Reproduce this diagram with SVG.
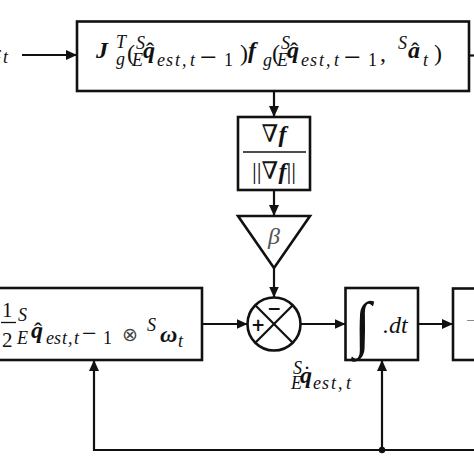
<svg xmlns="http://www.w3.org/2000/svg" width="474" height="474" viewBox="0 0 474 474">
<style>
.box{fill:#fff;stroke:#111;stroke-width:2.6}
.ln{fill:none;stroke:#111;stroke-width:2.2}
.it{font-family:"Liberation Serif","DejaVu Serif",serif;font-style:italic;fill:#111}
.bi{font-family:"Liberation Serif","DejaVu Serif",serif;font-style:italic;font-weight:bold;fill:#111}
.rm{font-family:"Liberation Serif","DejaVu Serif",serif;fill:#111}
.m{font-size:24px}
.s{font-size:18px}
</style>
<defs>
<marker id="ah" markerUnits="userSpaceOnUse" markerWidth="12" markerHeight="12" refX="11" refY="5" orient="auto">
<path d="M0,0 L11,5 L0,10 z" fill="#111"/>
</marker>
</defs>
<rect width="474" height="474" fill="#fff"/>

<g id="connectors">
<line class="ln" x1="22" y1="55" x2="77" y2="55" marker-end="url(#ah)"/>
<line class="ln" x1="469" y1="55.5" x2="476" y2="55.5"/>
<line class="ln" x1="274" y1="91" x2="274" y2="117" marker-end="url(#ah)"/>
<line class="ln" x1="274" y1="190" x2="274" y2="216" marker-end="url(#ah)"/>
<line class="ln" x1="274" y1="268" x2="274" y2="297.5" marker-end="url(#ah)"/>
<line class="ln" x1="202" y1="324" x2="247.5" y2="324" marker-end="url(#ah)"/>
<line class="ln" x1="300.5" y1="324" x2="345.5" y2="324" marker-end="url(#ah)"/>
<line class="ln" x1="418" y1="324" x2="453" y2="324" marker-end="url(#ah)"/>
<polyline class="ln" points="476,450 94,450 94,360" marker-end="url(#ah)"/>
<line class="ln" x1="382" y1="450" x2="382" y2="360" marker-end="url(#ah)"/>
<circle cx="382" cy="450" r="3.2" fill="#111"/>
</g>

<g id="input-label">
<text class="it s" x="-6" y="59">ε</text>
<text class="it s" x="3" y="63">t</text>
</g>

<g id="gradient-box">
<rect class="box" x="77" y="21.5" width="392" height="69.5"/>
<text class="bi m" x="96" y="58">J</text>
<text class="it s" x="116" y="48">T</text>
<text class="it s" x="116" y="65">g</text>
<text class="rm m" x="127" y="61">(</text>
<text class="it s" x="136" y="49">S</text>
<text class="it s" x="132" y="66">E</text>
<text class="bi m" x="143" y="58">q</text>
<text class="rm m" x="146" y="59">ˆ</text>
<text class="it s" x="157 166 175 182 190" y="66">est,t</text>
<text class="rm" font-size="30" x="200" y="66.5">−</text>
<text class="rm s" x="224" y="66">1</text>
<text class="rm m" x="240" y="61">)</text>
<text class="bi m" x="248" y="58">f</text>
<text class="it s" x="263" y="66">g</text>
<text class="rm m" x="272" y="61">(</text>
<text class="it s" x="281" y="49">S</text>
<text class="it s" x="277" y="66">E</text>
<text class="bi m" x="287" y="58">q</text>
<text class="rm m" x="290" y="59">ˆ</text>
<text class="it s" x="301 310 319 326 334" y="66">est,t</text>
<text class="rm" font-size="30" x="344" y="66.5">−</text>
<text class="rm s" x="368" y="66">1</text>
<text class="rm m" x="380" y="61">,</text>
<text class="it s" x="398" y="49">S</text>
<text class="bi m" x="408" y="58">a</text>
<text class="rm m" x="411" y="59">ˆ</text>
<text class="it s" x="423" y="66">t</text>
<text class="rm m" x="434" y="61">)</text>
</g>

<g id="normalise">
<rect class="box" x="238" y="117" width="72" height="73"/>
<text class="bi m" x="274" y="142" text-anchor="middle"><tspan class="rm" font-weight="normal" font-style="normal">∇</tspan>f</text>
<line x1="243" y1="152" x2="306" y2="152" stroke="#111" stroke-width="1.4"/>
<text class="bi m" x="274" y="179" text-anchor="middle"><tspan class="rm" font-weight="normal" font-style="normal">||∇</tspan>f<tspan class="rm" font-weight="normal" font-style="normal">||</tspan></text>
</g>

<g id="beta">
<polygon class="box" points="238,216 310,216 274,268"/>
<text class="it m" x="274" y="244" text-anchor="middle" style="fill:#555">β</text>
</g>

<g id="sum">
<circle class="box" cx="274" cy="324" r="26.5"/>
<line class="ln" x1="255.3" y1="305.3" x2="292.7" y2="342.7"/>
<line class="ln" x1="292.7" y1="305.3" x2="255.3" y2="342.7"/>
<text x="258" y="331" font-family="DejaVu Sans" font-weight="bold" font-size="17" text-anchor="middle" fill="#111">+</text>
<text x="274" y="314" font-family="DejaVu Sans" font-weight="bold" font-size="17" text-anchor="middle" fill="#111">−</text>
</g>

<g id="rate-box">
<rect class="box" x="-5" y="288" width="207" height="72"/>
<text class="rm" font-size="21" x="2" y="317">1</text>
<line x1="1" y1="322.5" x2="16" y2="322.5" stroke="#111" stroke-width="1.3"/>
<text class="rm" font-size="21" x="2" y="347">2</text>
<text class="it s" x="18" y="321">S</text>
<text class="it s" x="17" y="344">E</text>
<text class="bi m" x="31" y="338">q</text>
<text class="rm m" x="34" y="339">ˆ</text>
<text class="it s" x="46 54 62 68 74" y="344">est,t</text>
<text class="rm" font-size="26" x="82" y="342">−</text>
<text class="rm s" x="103" y="344">1</text>
<text x="130" y="341" font-family="DejaVu Sans" font-size="19" text-anchor="middle" fill="#444">⊗</text>
<text class="it s" x="147" y="331">S</text>
<text class="bi m" x="160" y="342">ω</text>
<text class="it s" x="178" y="347">t</text>
</g>

<g id="integrator">
<rect class="box" x="345.5" y="288" width="72.5" height="72"/>
<text class="rm" font-size="62" x="354" y="345">∫</text>
<text class="it m" x="383" y="333"><tspan class="rm">.</tspan>dt</text>
</g>

<g id="next-box">
<rect class="box" x="453" y="288.5" width="30" height="71.5"/>
<text class="rm" font-size="20" x="466" y="327" style="fill:#888">−</text>
</g>

<g id="qdot-label">
<text class="it s" x="293" y="374">S</text>
<text class="it s" x="291" y="389">E</text>
<text class="bi m" x="300" y="383">q</text>
<text class="rm m" x="303" y="382">˙</text>
<text class="it s" x="313 322 331 338 346" y="389">est,t</text>
</g>
</svg>
